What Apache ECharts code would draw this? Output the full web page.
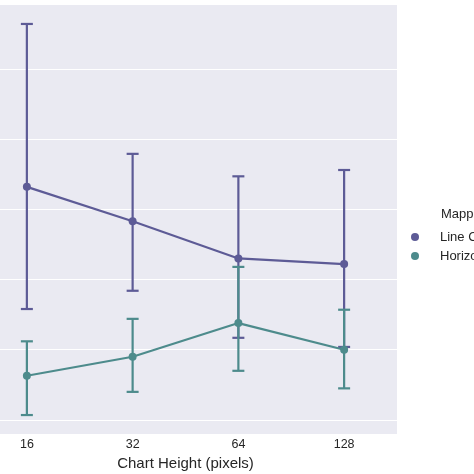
<!DOCTYPE html>
<html>
<head>
<meta charset="utf-8">
<script src="https://cdn.jsdelivr.net/npm/echarts@6/dist/echarts.min.js"></script>
<style>
  html, body { margin: 0; padding: 0; background: #fff; }
  #chart { width: 474px; height: 474px; }
</style>
</head>
<body>
<div id="chart"></div>
<script>
// chart heights on the x axis
const heights = ['16', '32', '64', '128']

// mean and error-bar ends
const lineMean = [3.32, 2.83, 2.30, 2.22]
const lineLow = [1.58, 1.84, 1.17, 1.04]
const lineHigh = [5.64, 3.79, 3.47, 3.56]

const horizMean = [0.63, 0.90, 1.38, 1.00]
const horizLow = [0.07, 0.40, 0.70, 0.45]
const horizHigh = [1.12, 1.44, 2.18, 1.57]

// y gridlines (labels are cut off in the original)
const yTicks = [0, 1, 2, 3, 4, 5]

const seriesNames = ['Line Chart', 'Horizontal Bar']
const colors = ['#5d5b96', '#4d8b8c']

const font = 'Liberation Sans, Arial, sans-serif'

const chart = echarts.init(document.getElementById('chart'))

function errorBars(name, low, high, color, z) {
  return {
    name: name,
    type: 'custom',
    z: z,
    silent: true,
    itemStyle: { color: color },
    data: heights.map((h, i) => [i, low[i], high[i]]),
    renderItem: function(params, api) {
      const top = api.coord([api.value(0), api.value(2)])
      const bot = api.coord([api.value(0), api.value(1)])
      const w = 6
      const style = { stroke: color, lineWidth: 2.2 }
      return {
        type: 'group',
        children: [
          { type: 'line', shape: { x1: top[0], y1: top[1], x2: bot[0], y2: bot[1] }, style: style },
          { type: 'line', shape: { x1: top[0] - w, y1: top[1], x2: top[0] + w, y2: top[1] }, style: style },
          { type: 'line', shape: { x1: bot[0] - w, y1: bot[1], x2: bot[0] + w, y2: bot[1] }, style: style }
        ]
      }
    }
  }
}

function meanLine(name, data, color, z) {
  return {
    name: name,
    type: 'line',
    z: z,
    data: data,
    symbol: 'circle',
    symbolSize: 8,
    showSymbol: true,
    lineStyle: { color: color, width: 2.2 },
    itemStyle: { color: color }
  }
}

chart.setOption({
  animation: false,
  backgroundColor: '#fff',
  title: {
    text: 'Mapping',
    left: 441,
    top: 208,
    padding: 0,
    textStyle: { fontSize: 13, fontWeight: 'normal', color: '#262626', fontFamily: font }
  },
  legend: {
    data: seriesNames,
    orient: 'vertical',
    left: 411,
    top: 230,
    padding: 0,
    icon: 'circle',
    itemWidth: 8,
    itemHeight: 8,
    itemGap: 5,
    textStyle: {
      fontSize: 13,
      lineHeight: 14,
      color: '#262626',
      fontFamily: font,
      padding: [0, 0, 0, 16],
      width: 42,
      overflow: 'truncate',
      ellipsis: ''
    }
  },
  grid: {
    left: -26,
    right: 77,
    top: 5,
    bottom: 40,
    outerBoundsMode: 'none',
    show: true,
    backgroundColor: '#eaeaf2',
    borderWidth: 0
  },
  xAxis: {
    type: 'category',
    data: heights,
    boundaryGap: true,
    name: 'Chart Height (pixels)',
    nameLocation: 'middle',
    nameGap: 18,
    nameTextStyle: { fontSize: 15, color: '#262626', fontFamily: font },
    axisLine: { show: false },
    axisTick: { show: false },
    splitLine: { show: false },
    axisLabel: { margin: 4, fontSize: 12.5, color: '#262626', fontFamily: font }
  },
  yAxis: {
    type: 'value',
    min: -0.2,
    max: 5.91,
    axisLine: { show: false },
    axisTick: { show: false },
    axisLabel: { show: false },
    splitLine: { show: false }
  },
  series: [
    {
      name: 'grid',
      type: 'line',
      z: 1,
      silent: true,
      data: [],
      markLine: {
        z: 1,
        silent: true,
        symbol: 'none',
        label: { show: false },
        lineStyle: { color: '#ffffff', width: 1.2, type: 'solid' },
        data: yTicks.map(v => ({ yAxis: v }))
      }
    },
    errorBars(seriesNames[0], lineLow, lineHigh, colors[0], 2),
    meanLine(seriesNames[0], lineMean, colors[0], 2),
    errorBars(seriesNames[1], horizLow, horizHigh, colors[1], 3),
    meanLine(seriesNames[1], horizMean, colors[1], 3)
  ]
})
</script>
</body>
</html>
